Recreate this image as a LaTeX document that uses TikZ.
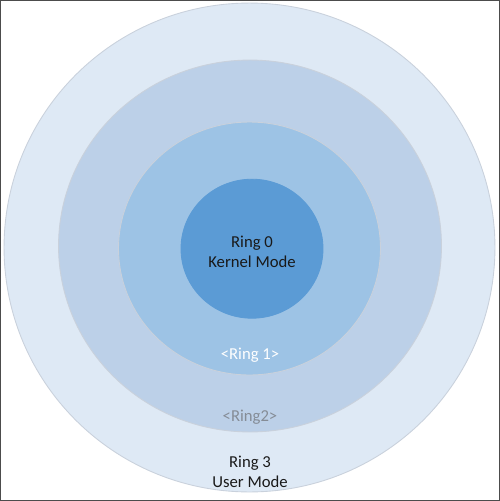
\documentclass[tikz,border=0pt]{standalone}
\usepackage{fontspec}
\setmainfont{Carlito}
\usetikzlibrary{positioning}
\definecolor{ringfour}{HTML}{DEE9F5}
\definecolor{ringthree}{HTML}{BCD0E8}
\definecolor{ringtwo}{HTML}{9DC3E5}
\definecolor{ringone}{HTML}{5B9BD5}
\definecolor{ringedge}{HTML}{C9D1DC}
\definecolor{greytext}{HTML}{858C96}

\begin{document}
\begin{tikzpicture}[
    x=0.02cm, y=-0.02cm,
    ring/.style={draw=ringedge, line width=0.5pt},
    lbl/.style={align=center, font=\fontsize{9.5}{11.4}\selectfont, inner sep=0pt, text=black!90}
]
\useasboundingbox (0,0) rectangle (500,501);
\draw[black!70, line width=0.7pt] (0.35,0.35) rectangle (499.65,500.65);

\filldraw[ring, fill=ringfour] (249.5,247.5) ellipse (4.91cm and 4.89cm);
\filldraw[ring, fill=ringthree] (250,246) ellipse (3.83cm and 3.72cm);
\filldraw[ring, fill=ringtwo] (249.5,248.5) ellipse (2.62cm and 2.53cm);
\filldraw[ring, draw=ringone, fill=ringone] (252,248.7) ellipse (1.42cm and 1.39cm);

\node[lbl] (kernel) at (252,251.7) {Ring 0\\Kernel Mode};
\node[lbl, text=white] (one) at (250,355) {<Ring 1>};
\node[lbl, text=greytext] (two) at (250,417) {<Ring2>};
\node[lbl] (user) at (250,472) {Ring 3\\User Mode};
\end{tikzpicture}
\end{document}
